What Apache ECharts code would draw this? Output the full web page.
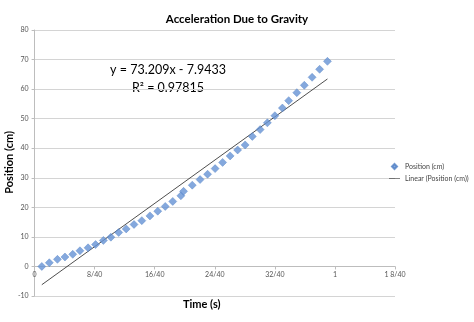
<!DOCTYPE html>
<html>
<head>
<meta charset="utf-8">
<script src="https://cdn.jsdelivr.net/npm/echarts@6/dist/echarts.min.js"></script>
<style>
  html, body { margin: 0; padding: 0; background: #fff; }
  #chart { width: 474px; height: 322px; }
</style>
</head>
<body>
<div id="chart"></div>
<script>
    // time (s) and position (cm)
    var times = [0.024, 0.049, 0.076, 0.101, 0.127, 0.151, 0.178, 0.203, 0.229, 0.254,
                 0.280, 0.305, 0.331, 0.357, 0.384, 0.410, 0.435, 0.460, 0.487, 0.496,
                 0.525, 0.551, 0.576, 0.601, 0.626, 0.651, 0.676, 0.701, 0.725, 0.751,
                 0.775, 0.800, 0.825, 0.846, 0.873, 0.898, 0.924, 0.949, 0.975];
    var positions = [0.0, 1.25, 2.4, 3.2, 4.1, 5.3, 6.3, 7.4, 8.8, 9.9,
                     11.5, 12.7, 14.2, 15.5, 17.1, 18.7, 20.3, 22.0, 23.9, 25.4,
                     27.5, 29.4, 31.2, 33.1, 35.2, 37.4, 39.4, 41.1, 44.0, 46.3,
                     48.6, 51.0, 53.6, 56.1, 58.8, 61.3, 64.0, 66.7, 69.4];
    var slope = 73.209;
    var intercept = -7.9433;
    var xTickValues = [0, 0.2, 0.4, 0.6, 0.8, 1, 1.2];
    var xTickLabels = ['0', '8/40', '16/40', '24/40', '32/40', '1', '1 8/40'];

    var points = [];
    for (var i = 0; i < times.length; i++) {
        points.push([times[i], positions[i]]);
    }
    var x0 = times[0], x1 = times[times.length - 1];
    var trend = [[x0, slope * x0 + intercept], [x1, slope * x1 + intercept]];

    var font = 'Lato, "Open Sans", sans-serif';
    var gridColor = '#d4d4d4';
    // plot is 266 px tall for 90 units; x axis sits on y = 0, 10 units above the bottom
    var plotHeight = 322 - 30 - 26;
    var zeroOffset = -plotHeight * 10 / 90;

    var myChart = echarts.init(document.getElementById('chart'));
    myChart.setOption({
        animation: false,
        textStyle: { fontFamily: font },
        title: {
            text: 'Acceleration Due to Gravity',
            left: 'center',
            top: 8,
            textStyle: { fontSize: 11.5, fontWeight: 'bold', color: '#000', fontFamily: font }
        },
        grid: { left: 34.6, right: 79, top: 30, bottom: 26 },
        legend: {
            orient: 'vertical',
            left: 388,
            top: 163,
            padding: 0,
            itemWidth: 11,
            itemHeight: 5,
            itemGap: 5,
            textStyle: { fontSize: 7, color: '#444', fontFamily: font },
            data: [
                // small diamond in the middle of an 11 px wide icon box
                { name: 'Position (cm)', icon: 'path://M5.5,0 L8,2.5 L5.5,5 L3,2.5 Z M0,2.5 L0,2.5 M11,2.5 L11,2.5' },
                { name: 'Linear (Position (cm))', icon: 'path://M0,5 L20,5 L20,6 L0,6 Z' }
            ]
        },
        xAxis: {
            type: 'value',
            min: 0,
            max: 1.2,
            interval: 0.2,
            offset: zeroOffset,
            axisLine: { onZero: false, lineStyle: { color: '#bdbdbd' } },
            axisTick: { show: true, length: 3, lineStyle: { color: '#bdbdbd' } },
            splitLine: { show: false },
            axisLabel: {
                fontSize: 7,
                color: '#555',
                margin: 5,
                formatter: function (v) {
                    for (var k = 0; k < xTickValues.length; k++) {
                        if (Math.abs(v - xTickValues[k]) < 1e-6) return xTickLabels[k];
                    }
                    return '';
                }
            }
        },
        yAxis: {
            type: 'value',
            min: -10,
            max: 80,
            interval: 10,
            axisLine: { show: true, onZero: false, lineStyle: { color: '#bdbdbd' } },
            axisTick: { show: true, length: 3, lineStyle: { color: '#bdbdbd' } },
            splitLine: { show: true, lineStyle: { color: gridColor, width: 1 } },
            axisLabel: { fontSize: 7, color: '#555', margin: 6 }
        },
        graphic: [
            { type: 'text', left: 183, top: 299,
              style: { text: 'Time (s)', fontSize: 11, fontWeight: 'bold', fill: '#000', fontFamily: font } },
            { type: 'text', left: 4, top: 131, rotation: Math.PI / 2,
              style: { text: 'Position (cm)', fontSize: 11, fontWeight: 'bold', fill: '#000', fontFamily: font } },
            { type: 'text', x: 168, y: 70,
              style: { text: 'y = 73.209x - 7.9433', fontSize: 12.5, fill: '#000', align: 'center', verticalAlign: 'middle', fontFamily: font } },
            { type: 'text', x: 168, y: 88,
              style: { text: 'R² = 0.97815', fontSize: 12.5, fill: '#000', align: 'center', verticalAlign: 'middle', fontFamily: font } }
        ],
        series: [
            {
                name: 'Position (cm)',
                type: 'scatter',
                symbol: 'diamond',
                symbolSize: 8,
                itemStyle: { color: '#6592d4', borderColor: '#4f7fc4', borderWidth: 0.5 },
                data: points,
                z: 3
            },
            {
                name: 'Linear (Position (cm))',
                type: 'line',
                symbol: 'none',
                lineStyle: { color: '#222', width: 0.8 },
                itemStyle: { color: '#222' },
                data: trend,
                z: 2
            }
        ]
    });
</script>
</body>
</html>
